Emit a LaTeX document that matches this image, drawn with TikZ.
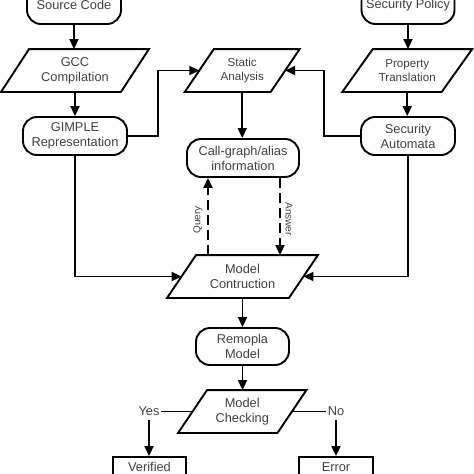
\documentclass[tikz,border=0pt]{standalone}
\usepackage{fontspec}
\setmainfont{Liberation Sans}
\usetikzlibrary{arrows.meta}
\newcommand{\pgram}[2]{%
  \draw ([xshift=#2/2]#1.north west) -- ([xshift=#2/2]#1.north east) --
        ([xshift=-#2/2]#1.south east) -- ([xshift=-#2/2]#1.south west) -- cycle;}
\begin{document}
\begin{tikzpicture}[x=1pt,y=-1pt,
  line width=1.9pt,
  every node/.style={font=\fontsize{12.8}{15}\selectfont, text=black!75, align=center, inner sep=0pt},
  term/.style={draw, rounded corners=14pt, minimum height=38pt},
  para/.style={minimum height=41pt},
  smallf/.style={font=\fontsize{11.6}{14}\selectfont},
  rectbox/.style={draw, minimum height=20pt},
  lbl/.style={font=\fontsize{10}{12}\selectfont},
  yn/.style={inner xsep=1pt, inner ysep=3pt},
  arr/.style={-{Triangle[length=10pt,width=9pt]}},
  dsh/.style={dash pattern=on 10pt off 5pt},
]
\useasboundingbox (0,0) rectangle (474,474);

% nodes
\node[term, minimum width=94pt] (src) at (74,5) {Source Code};
\node[para, minimum width=118pt] (gcc) at (75,70.5) {GCC\\Compilation};
\node[term, minimum width=104pt] (gim) at (75,136) {GIMPLE\\Representation};
\node[para, smallf, minimum width=84pt] (sa) at (242.25,70.5) {Static\\Analysis};
\node[term, minimum width=112pt] (cg) at (243,158) {Call-graph/alias\\information};
\node[term, minimum width=93pt] (sp) at (408,5) {Security Policy};
\node[para, smallf, minimum width=97.5pt] (pt) at (407.25,70.5) {Property\\Translation};
\node[term, minimum width=94pt] (sau) at (408,136) {Security\\Automata};
\node[para, minimum width=120pt] (mc) at (242.5,276.5) {Model\\Contruction};
\node[term, minimum width=93pt, minimum height=37pt] (rm) at (242.5,346.5) {Remopla\\Model};
\node[para, minimum width=97.5pt] (mk) at (242.25,411.5) {Model\\Checking};
\node[yn] (yes) at (149,411.5) {Yes};
\node[yn] (no) at (336,411.5) {No};
\node[rectbox, minimum width=73pt] (ver) at (149.5,467) {Verified};
\node[rectbox, minimum width=74pt] (err) at (336,467) {Error};
\node[lbl, rotate=90] (ql) at (198,220) {Query};
\node[lbl, rotate=-90] (al) at (289,219) {Answer};

% parallelogram outlines
\pgram{gcc}{28}
\pgram{sa}{29}
\pgram{pt}{30.5}
\pgram{mc}{29}
\pgram{mk}{29}

% connectors
\draw[arr] (src.south) -- (src.south |- gcc.north);
\draw[arr] (gcc.south) -- (gcc.south |- gim.north);
\draw[arr] (gim.east) -- ++(30,0) |- (sa.west);
\draw[arr] (sa.south) -- (sa.south |- cg.north);
\draw[arr] (sp.south) -- (sp.south |- pt.north);
\draw[arr] (pt.south) -- (pt.south |- sau.north);
\draw[arr] (sau.west) -- ++(-36,0) |- (sa.east);
\draw[arr] (gim.south) |- (mc.west);
\draw[arr] (sau.south) |- (mc.east);

\coordinate (qx) at (208,0);
\coordinate (ax) at (280,0);
\draw[arr, dsh] (qx |- mc.north) -- (qx |- cg.south);
\draw[arr, dsh] (ax |- cg.south) -- (ax |- mc.north);

\draw[arr] (mc.south) -- (mc.south |- rm.north);
\draw[arr] (rm.south) -- (rm.south |- mk.north);
\draw (mk.west) -- (yes.east);
\draw (mk.east) -- (no.west);
\draw[arr] (yes.south) -- (yes.south |- ver.north);
\draw[arr] (no.south) -- (no.south |- err.north);
\end{tikzpicture}
\end{document}
